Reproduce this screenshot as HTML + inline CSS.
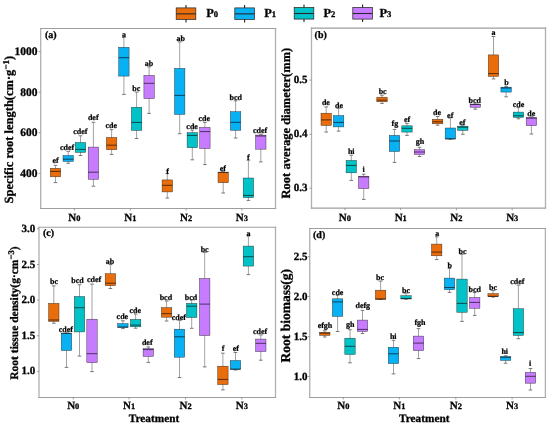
<!DOCTYPE html>
<html><head><meta charset="utf-8"><style>
html,body{margin:0;padding:0;background:#fff;}
body{width:550px;height:426px;overflow:hidden;}
svg{display:block;will-change:transform;text-rendering:geometricPrecision;font-family:"Liberation Serif", serif;font-weight:bold;fill:#111;}
svg text{fill:#000;stroke:#000;stroke-width:0.3px;}
</style></head><body>
<svg width="550" height="426" viewBox="0 0 550 426">
<defs><filter id="bl" x="-1%" y="-1%" width="102%" height="102%" color-interpolation-filters="sRGB"><feGaussianBlur stdDeviation="0.42 0.3"/></filter></defs>
<rect x="0" y="0" width="550" height="426" fill="#fff"/>
<g filter="url(#bl)">
<line x1="55.5" y1="165.3" x2="55.5" y2="182.6" stroke="#8a8a8a" stroke-width="0.8"/>
<line x1="53.70" y1="165.3" x2="57.30" y2="165.3" stroke="#777" stroke-width="1"/>
<line x1="53.70" y1="182.6" x2="57.30" y2="182.6" stroke="#777" stroke-width="1"/>
<rect x="50.30" y="168.3" width="10.4" height="8.50" fill="#EA6D0B" stroke="#1a1a1a" stroke-width="0.5" stroke-opacity="0.8"/>
<line x1="50.30" y1="171.4" x2="60.70" y2="171.4" stroke="#000" stroke-width="1" stroke-opacity="0.62"/>
<text x="55.5" y="162.70" font-size="8" text-anchor="middle" style="stroke-width:0.22px">ef</text>
<line x1="68.2" y1="151.3" x2="68.2" y2="163.3" stroke="#8a8a8a" stroke-width="0.8"/>
<line x1="66.40" y1="151.3" x2="70.00" y2="151.3" stroke="#777" stroke-width="1"/>
<line x1="66.40" y1="163.3" x2="70.00" y2="163.3" stroke="#777" stroke-width="1"/>
<rect x="63.00" y="155.5" width="10.4" height="6.00" fill="#07B1F3" stroke="#1a1a1a" stroke-width="0.5" stroke-opacity="0.8"/>
<line x1="63.00" y1="159.2" x2="73.40" y2="159.2" stroke="#000" stroke-width="1" stroke-opacity="0.62"/>
<text x="67.1" y="150.00" font-size="8" text-anchor="middle" style="stroke-width:0.22px">cdef</text>
<line x1="80.5" y1="135.8" x2="80.5" y2="155.5" stroke="#8a8a8a" stroke-width="0.8"/>
<line x1="78.70" y1="135.8" x2="82.30" y2="135.8" stroke="#777" stroke-width="1"/>
<line x1="78.70" y1="155.5" x2="82.30" y2="155.5" stroke="#777" stroke-width="1"/>
<rect x="75.30" y="142.5" width="10.4" height="9.90" fill="#01C2C6" stroke="#1a1a1a" stroke-width="0.5" stroke-opacity="0.8"/>
<line x1="75.30" y1="149.4" x2="85.70" y2="149.4" stroke="#000" stroke-width="1" stroke-opacity="0.62"/>
<text x="80.25" y="133.50" font-size="8" text-anchor="middle" style="stroke-width:0.22px">cdef</text>
<line x1="93.4" y1="122.3" x2="93.4" y2="186.2" stroke="#8a8a8a" stroke-width="0.8"/>
<line x1="91.60" y1="122.3" x2="95.20" y2="122.3" stroke="#777" stroke-width="1"/>
<line x1="91.60" y1="186.2" x2="95.20" y2="186.2" stroke="#777" stroke-width="1"/>
<rect x="88.20" y="147.1" width="10.4" height="32.20" fill="#C77CFF" stroke="#1a1a1a" stroke-width="0.5" stroke-opacity="0.8"/>
<line x1="88.20" y1="172.2" x2="98.60" y2="172.2" stroke="#000" stroke-width="1" stroke-opacity="0.62"/>
<text x="93.25" y="120.20" font-size="8" text-anchor="middle" style="stroke-width:0.22px">def</text>
<line x1="111.6" y1="129.7" x2="111.6" y2="154.4" stroke="#8a8a8a" stroke-width="0.8"/>
<line x1="109.80" y1="129.7" x2="113.40" y2="129.7" stroke="#777" stroke-width="1"/>
<line x1="109.80" y1="154.4" x2="113.40" y2="154.4" stroke="#777" stroke-width="1"/>
<rect x="106.40" y="137.5" width="10.4" height="12.20" fill="#EA6D0B" stroke="#1a1a1a" stroke-width="0.5" stroke-opacity="0.8"/>
<line x1="106.40" y1="145.2" x2="116.80" y2="145.2" stroke="#000" stroke-width="1" stroke-opacity="0.62"/>
<text x="111.3" y="128.30" font-size="8" text-anchor="middle" style="stroke-width:0.22px">cde</text>
<line x1="123.9" y1="37.5" x2="123.9" y2="94.4" stroke="#8a8a8a" stroke-width="0.8"/>
<line x1="122.10" y1="37.5" x2="125.70" y2="37.5" stroke="#777" stroke-width="1"/>
<line x1="122.10" y1="94.4" x2="125.70" y2="94.4" stroke="#777" stroke-width="1"/>
<rect x="118.70" y="47.3" width="10.4" height="28.80" fill="#07B1F3" stroke="#1a1a1a" stroke-width="0.5" stroke-opacity="0.8"/>
<line x1="118.70" y1="57.7" x2="129.10" y2="57.7" stroke="#000" stroke-width="1" stroke-opacity="0.62"/>
<text x="123.9" y="36.60" font-size="8" text-anchor="middle" style="stroke-width:0.22px">a</text>
<line x1="136.6" y1="92.1" x2="136.6" y2="138.5" stroke="#8a8a8a" stroke-width="0.8"/>
<line x1="134.80" y1="92.1" x2="138.40" y2="92.1" stroke="#777" stroke-width="1"/>
<line x1="134.80" y1="138.5" x2="138.40" y2="138.5" stroke="#777" stroke-width="1"/>
<rect x="131.40" y="107.3" width="10.4" height="23.10" fill="#01C2C6" stroke="#1a1a1a" stroke-width="0.5" stroke-opacity="0.8"/>
<line x1="131.40" y1="122.4" x2="141.80" y2="122.4" stroke="#000" stroke-width="1" stroke-opacity="0.62"/>
<text x="136.25" y="90.70" font-size="8" text-anchor="middle" style="stroke-width:0.22px">bc</text>
<line x1="149.1" y1="66.8" x2="149.1" y2="113.4" stroke="#8a8a8a" stroke-width="0.8"/>
<line x1="147.30" y1="66.8" x2="150.90" y2="66.8" stroke="#777" stroke-width="1"/>
<line x1="147.30" y1="113.4" x2="150.90" y2="113.4" stroke="#777" stroke-width="1"/>
<rect x="143.90" y="75.4" width="10.4" height="23.20" fill="#C77CFF" stroke="#1a1a1a" stroke-width="0.5" stroke-opacity="0.8"/>
<line x1="143.90" y1="83.3" x2="154.30" y2="83.3" stroke="#000" stroke-width="1" stroke-opacity="0.62"/>
<text x="149" y="66.10" font-size="8" text-anchor="middle" style="stroke-width:0.22px">ab</text>
<line x1="167.3" y1="173.7" x2="167.3" y2="198" stroke="#8a8a8a" stroke-width="0.8"/>
<line x1="165.50" y1="173.7" x2="169.10" y2="173.7" stroke="#777" stroke-width="1"/>
<line x1="165.50" y1="198" x2="169.10" y2="198" stroke="#777" stroke-width="1"/>
<rect x="162.10" y="179.9" width="10.4" height="12.00" fill="#EA6D0B" stroke="#1a1a1a" stroke-width="0.5" stroke-opacity="0.8"/>
<line x1="162.10" y1="185.3" x2="172.50" y2="185.3" stroke="#000" stroke-width="1" stroke-opacity="0.62"/>
<text x="167.55" y="173.60" font-size="8" text-anchor="middle" style="stroke-width:0.22px">f</text>
<line x1="179.7" y1="41.9" x2="179.7" y2="133.7" stroke="#8a8a8a" stroke-width="0.8"/>
<line x1="177.90" y1="41.9" x2="181.50" y2="41.9" stroke="#777" stroke-width="1"/>
<line x1="177.90" y1="133.7" x2="181.50" y2="133.7" stroke="#777" stroke-width="1"/>
<rect x="174.50" y="68.4" width="10.4" height="46.00" fill="#07B1F3" stroke="#1a1a1a" stroke-width="0.5" stroke-opacity="0.8"/>
<line x1="174.50" y1="95.4" x2="184.90" y2="95.4" stroke="#000" stroke-width="1" stroke-opacity="0.62"/>
<text x="180.65" y="40.50" font-size="8" text-anchor="middle" style="stroke-width:0.22px">ab</text>
<line x1="192.3" y1="130.2" x2="192.3" y2="159.8" stroke="#8a8a8a" stroke-width="0.8"/>
<line x1="190.50" y1="130.2" x2="194.10" y2="130.2" stroke="#777" stroke-width="1"/>
<line x1="190.50" y1="159.8" x2="194.10" y2="159.8" stroke="#777" stroke-width="1"/>
<rect x="187.10" y="132.6" width="10.4" height="15.10" fill="#01C2C6" stroke="#1a1a1a" stroke-width="0.5" stroke-opacity="0.8"/>
<line x1="187.10" y1="135.4" x2="197.50" y2="135.4" stroke="#000" stroke-width="1" stroke-opacity="0.62"/>
<text x="192.15" y="128.80" font-size="8" text-anchor="middle" style="stroke-width:0.22px">cde</text>
<line x1="204.9" y1="122.4" x2="204.9" y2="164.6" stroke="#8a8a8a" stroke-width="0.8"/>
<line x1="203.10" y1="122.4" x2="206.70" y2="122.4" stroke="#777" stroke-width="1"/>
<line x1="203.10" y1="164.6" x2="206.70" y2="164.6" stroke="#777" stroke-width="1"/>
<rect x="199.70" y="127.4" width="10.4" height="21.10" fill="#C77CFF" stroke="#1a1a1a" stroke-width="0.5" stroke-opacity="0.8"/>
<line x1="199.70" y1="131.6" x2="210.10" y2="131.6" stroke="#000" stroke-width="1" stroke-opacity="0.62"/>
<text x="204.3" y="121.30" font-size="8" text-anchor="middle" style="stroke-width:0.22px">cde</text>
<line x1="223.2" y1="171.2" x2="223.2" y2="193" stroke="#8a8a8a" stroke-width="0.8"/>
<line x1="221.40" y1="171.2" x2="225.00" y2="171.2" stroke="#777" stroke-width="1"/>
<line x1="221.40" y1="193" x2="225.00" y2="193" stroke="#777" stroke-width="1"/>
<rect x="218.00" y="172.3" width="10.4" height="10.40" fill="#EA6D0B" stroke="#1a1a1a" stroke-width="0.5" stroke-opacity="0.8"/>
<line x1="218.00" y1="172.3" x2="228.40" y2="172.3" stroke="#000" stroke-width="1" stroke-opacity="0.62"/>
<text x="222.9" y="171.10" font-size="8" text-anchor="middle" style="stroke-width:0.22px">ef</text>
<line x1="235.6" y1="100.8" x2="235.6" y2="138" stroke="#8a8a8a" stroke-width="0.8"/>
<line x1="233.80" y1="100.8" x2="237.40" y2="100.8" stroke="#777" stroke-width="1"/>
<line x1="233.80" y1="138" x2="237.40" y2="138" stroke="#777" stroke-width="1"/>
<rect x="230.40" y="111.7" width="10.4" height="18.60" fill="#07B1F3" stroke="#1a1a1a" stroke-width="0.5" stroke-opacity="0.8"/>
<line x1="230.40" y1="122.3" x2="240.80" y2="122.3" stroke="#000" stroke-width="1" stroke-opacity="0.62"/>
<text x="235.75" y="100.00" font-size="8" text-anchor="middle" style="stroke-width:0.22px">bcd</text>
<line x1="248.4" y1="160.2" x2="248.4" y2="200.4" stroke="#8a8a8a" stroke-width="0.8"/>
<line x1="246.60" y1="160.2" x2="250.20" y2="160.2" stroke="#777" stroke-width="1"/>
<line x1="246.60" y1="200.4" x2="250.20" y2="200.4" stroke="#777" stroke-width="1"/>
<rect x="243.20" y="178" width="10.4" height="19.70" fill="#01C2C6" stroke="#1a1a1a" stroke-width="0.5" stroke-opacity="0.8"/>
<line x1="243.20" y1="195.4" x2="253.60" y2="195.4" stroke="#000" stroke-width="1" stroke-opacity="0.62"/>
<text x="248.3" y="159.80" font-size="8" text-anchor="middle" style="stroke-width:0.22px">f</text>
<line x1="260.8" y1="134.2" x2="260.8" y2="161.9" stroke="#8a8a8a" stroke-width="0.8"/>
<line x1="259.00" y1="134.2" x2="262.60" y2="134.2" stroke="#777" stroke-width="1"/>
<line x1="259.00" y1="161.9" x2="262.60" y2="161.9" stroke="#777" stroke-width="1"/>
<rect x="255.60" y="135.1" width="10.4" height="14.10" fill="#C77CFF" stroke="#1a1a1a" stroke-width="0.5" stroke-opacity="0.8"/>
<line x1="255.60" y1="136" x2="266.00" y2="136" stroke="#000" stroke-width="1" stroke-opacity="0.62"/>
<text x="260.15" y="133.10" font-size="8" text-anchor="middle" style="stroke-width:0.22px">cdef</text>
<path d="M40.7 28.0V209.05M275.5 28.0V209.05" stroke="#b0b0b0" stroke-width="1.3" fill="none"/>
<path d="M40.050000000000004 28.5H276.15M40.050000000000004 208.55H276.15" stroke="#9e9e9e" stroke-width="1.05" fill="none"/>
<line x1="38.7" y1="173.3" x2="40.7" y2="173.3" stroke="#888" stroke-width="0.8"/>
<text x="37.6" y="176.72" font-size="11.5" text-anchor="end">400</text>
<line x1="38.7" y1="132.75" x2="40.7" y2="132.75" stroke="#888" stroke-width="0.8"/>
<text x="37.6" y="136.15" font-size="11.5" text-anchor="end">600</text>
<line x1="38.7" y1="92.2" x2="40.7" y2="92.2" stroke="#888" stroke-width="0.8"/>
<text x="37.6" y="95.59" font-size="11.5" text-anchor="end">800</text>
<line x1="38.7" y1="51.6" x2="40.7" y2="51.6" stroke="#888" stroke-width="0.8"/>
<text x="37.6" y="55.02" font-size="11.5" text-anchor="end">1000</text>
<line x1="74.4" y1="208.55" x2="74.4" y2="210.55" stroke="#888" stroke-width="0.8"/>
<text x="74.4" y="221.15" font-size="11" text-anchor="middle">N<tspan font-size="8.4">0</tspan></text>
<line x1="130.3" y1="208.55" x2="130.3" y2="210.55" stroke="#888" stroke-width="0.8"/>
<text x="130.3" y="221.15" font-size="11" text-anchor="middle">N<tspan font-size="8.4">1</tspan></text>
<line x1="186.1" y1="208.55" x2="186.1" y2="210.55" stroke="#888" stroke-width="0.8"/>
<text x="186.1" y="221.15" font-size="11" text-anchor="middle">N<tspan font-size="8.4">2</tspan></text>
<line x1="241.9" y1="208.55" x2="241.9" y2="210.55" stroke="#888" stroke-width="0.8"/>
<text x="241.9" y="221.15" font-size="11" text-anchor="middle">N<tspan font-size="8.4">3</tspan></text>
<text x="44.9" y="37.9" font-size="10">(a)</text>
<line x1="326.2" y1="106.9" x2="326.2" y2="132" stroke="#8a8a8a" stroke-width="0.8"/>
<line x1="324.40" y1="106.9" x2="328.00" y2="106.9" stroke="#777" stroke-width="1"/>
<line x1="324.40" y1="132" x2="328.00" y2="132" stroke="#777" stroke-width="1"/>
<rect x="321.00" y="113.2" width="10.4" height="12.30" fill="#EA6D0B" stroke="#1a1a1a" stroke-width="0.5" stroke-opacity="0.8"/>
<line x1="321.00" y1="119.9" x2="331.40" y2="119.9" stroke="#000" stroke-width="1" stroke-opacity="0.62"/>
<text x="325.9" y="105.10" font-size="8" text-anchor="middle" style="stroke-width:0.22px">de</text>
<line x1="338.6" y1="108.3" x2="338.6" y2="131.1" stroke="#8a8a8a" stroke-width="0.8"/>
<line x1="336.80" y1="108.3" x2="340.40" y2="108.3" stroke="#777" stroke-width="1"/>
<line x1="336.80" y1="131.1" x2="340.40" y2="131.1" stroke="#777" stroke-width="1"/>
<rect x="333.40" y="115.6" width="10.4" height="11.30" fill="#07B1F3" stroke="#1a1a1a" stroke-width="0.5" stroke-opacity="0.8"/>
<line x1="333.40" y1="122.4" x2="343.80" y2="122.4" stroke="#000" stroke-width="1" stroke-opacity="0.62"/>
<text x="338.95" y="107.50" font-size="8" text-anchor="middle" style="stroke-width:0.22px">de</text>
<line x1="351.3" y1="155.2" x2="351.3" y2="180.4" stroke="#8a8a8a" stroke-width="0.8"/>
<line x1="349.50" y1="155.2" x2="353.10" y2="155.2" stroke="#777" stroke-width="1"/>
<line x1="349.50" y1="180.4" x2="353.10" y2="180.4" stroke="#777" stroke-width="1"/>
<rect x="346.10" y="160.4" width="10.4" height="12.40" fill="#01C2C6" stroke="#1a1a1a" stroke-width="0.5" stroke-opacity="0.8"/>
<line x1="346.10" y1="165.4" x2="356.50" y2="165.4" stroke="#000" stroke-width="1" stroke-opacity="0.62"/>
<text x="351.25" y="153.70" font-size="8" text-anchor="middle" style="stroke-width:0.22px">hi</text>
<line x1="363.7" y1="174.2" x2="363.7" y2="199.4" stroke="#8a8a8a" stroke-width="0.8"/>
<line x1="361.90" y1="174.2" x2="365.50" y2="174.2" stroke="#777" stroke-width="1"/>
<line x1="361.90" y1="199.4" x2="365.50" y2="199.4" stroke="#777" stroke-width="1"/>
<rect x="358.50" y="176.2" width="10.4" height="12.40" fill="#C77CFF" stroke="#1a1a1a" stroke-width="0.5" stroke-opacity="0.8"/>
<line x1="358.50" y1="176.9" x2="368.90" y2="176.9" stroke="#000" stroke-width="1" stroke-opacity="0.62"/>
<text x="363.6" y="172.40" font-size="8" text-anchor="middle" style="stroke-width:0.22px">i</text>
<line x1="382" y1="95.2" x2="382" y2="103.4" stroke="#8a8a8a" stroke-width="0.8"/>
<line x1="380.20" y1="95.2" x2="383.80" y2="95.2" stroke="#777" stroke-width="1"/>
<line x1="380.20" y1="103.4" x2="383.80" y2="103.4" stroke="#777" stroke-width="1"/>
<rect x="376.80" y="97.2" width="10.4" height="4.60" fill="#EA6D0B" stroke="#1a1a1a" stroke-width="0.5" stroke-opacity="0.8"/>
<line x1="376.80" y1="100.1" x2="387.20" y2="100.1" stroke="#000" stroke-width="1" stroke-opacity="0.62"/>
<text x="382.65" y="94.40" font-size="8" text-anchor="middle" style="stroke-width:0.22px">bc</text>
<line x1="394.5" y1="129.4" x2="394.5" y2="162.4" stroke="#8a8a8a" stroke-width="0.8"/>
<line x1="392.70" y1="129.4" x2="396.30" y2="129.4" stroke="#777" stroke-width="1"/>
<line x1="392.70" y1="162.4" x2="396.30" y2="162.4" stroke="#777" stroke-width="1"/>
<rect x="389.30" y="135.4" width="10.4" height="16.10" fill="#07B1F3" stroke="#1a1a1a" stroke-width="0.5" stroke-opacity="0.8"/>
<line x1="389.30" y1="141" x2="399.70" y2="141" stroke="#000" stroke-width="1" stroke-opacity="0.62"/>
<text x="394.9" y="126.20" font-size="8" text-anchor="middle" style="stroke-width:0.22px">fg</text>
<line x1="407" y1="123.4" x2="407" y2="135.4" stroke="#8a8a8a" stroke-width="0.8"/>
<line x1="405.20" y1="123.4" x2="408.80" y2="123.4" stroke="#777" stroke-width="1"/>
<line x1="405.20" y1="135.4" x2="408.80" y2="135.4" stroke="#777" stroke-width="1"/>
<rect x="401.80" y="125.8" width="10.4" height="6.30" fill="#01C2C6" stroke="#1a1a1a" stroke-width="0.5" stroke-opacity="0.8"/>
<line x1="401.80" y1="128.3" x2="412.20" y2="128.3" stroke="#000" stroke-width="1" stroke-opacity="0.62"/>
<text x="407" y="121.60" font-size="8" text-anchor="middle" style="stroke-width:0.22px">ef</text>
<line x1="419.5" y1="147.3" x2="419.5" y2="156.5" stroke="#8a8a8a" stroke-width="0.8"/>
<line x1="417.70" y1="147.3" x2="421.30" y2="147.3" stroke="#777" stroke-width="1"/>
<line x1="417.70" y1="156.5" x2="421.30" y2="156.5" stroke="#777" stroke-width="1"/>
<rect x="414.30" y="149.7" width="10.4" height="4.70" fill="#C77CFF" stroke="#1a1a1a" stroke-width="0.5" stroke-opacity="0.8"/>
<line x1="414.30" y1="152" x2="424.70" y2="152" stroke="#000" stroke-width="1" stroke-opacity="0.62"/>
<text x="419.9" y="143.80" font-size="8" text-anchor="middle" style="stroke-width:0.22px">gh</text>
<line x1="437.6" y1="116.5" x2="437.6" y2="125.2" stroke="#8a8a8a" stroke-width="0.8"/>
<line x1="435.80" y1="116.5" x2="439.40" y2="116.5" stroke="#777" stroke-width="1"/>
<line x1="435.80" y1="125.2" x2="439.40" y2="125.2" stroke="#777" stroke-width="1"/>
<rect x="432.40" y="119.3" width="10.4" height="4.50" fill="#EA6D0B" stroke="#1a1a1a" stroke-width="0.5" stroke-opacity="0.8"/>
<line x1="432.40" y1="121.8" x2="442.80" y2="121.8" stroke="#000" stroke-width="1" stroke-opacity="0.62"/>
<text x="437.05" y="115.10" font-size="8" text-anchor="middle" style="stroke-width:0.22px">de</text>
<line x1="450.4" y1="117.7" x2="450.4" y2="139.2" stroke="#8a8a8a" stroke-width="0.8"/>
<line x1="448.60" y1="117.7" x2="452.20" y2="117.7" stroke="#777" stroke-width="1"/>
<line x1="448.60" y1="139.2" x2="452.20" y2="139.2" stroke="#777" stroke-width="1"/>
<rect x="445.20" y="128" width="10.4" height="10.90" fill="#07B1F3" stroke="#1a1a1a" stroke-width="0.5" stroke-opacity="0.8"/>
<line x1="445.20" y1="138.9" x2="455.60" y2="138.9" stroke="#000" stroke-width="1" stroke-opacity="0.62"/>
<text x="450.2" y="118.20" font-size="8" text-anchor="middle" style="stroke-width:0.22px">ef</text>
<line x1="462.8" y1="125.2" x2="462.8" y2="134.2" stroke="#8a8a8a" stroke-width="0.8"/>
<line x1="461.00" y1="125.2" x2="464.60" y2="125.2" stroke="#777" stroke-width="1"/>
<line x1="461.00" y1="134.2" x2="464.60" y2="134.2" stroke="#777" stroke-width="1"/>
<rect x="457.60" y="126.2" width="10.4" height="4.20" fill="#01C2C6" stroke="#1a1a1a" stroke-width="0.5" stroke-opacity="0.8"/>
<line x1="457.60" y1="127.2" x2="468.00" y2="127.2" stroke="#000" stroke-width="1" stroke-opacity="0.62"/>
<text x="462.4" y="124.50" font-size="8" text-anchor="middle" style="stroke-width:0.22px">ef</text>
<line x1="475.3" y1="104.1" x2="475.3" y2="109.2" stroke="#8a8a8a" stroke-width="0.8"/>
<line x1="473.50" y1="104.1" x2="477.10" y2="104.1" stroke="#777" stroke-width="1"/>
<line x1="473.50" y1="109.2" x2="477.10" y2="109.2" stroke="#777" stroke-width="1"/>
<rect x="470.10" y="104.2" width="10.4" height="3.10" fill="#C77CFF" stroke="#1a1a1a" stroke-width="0.5" stroke-opacity="0.8"/>
<line x1="470.10" y1="104.35" x2="480.50" y2="104.35" stroke="#000" stroke-width="1" stroke-opacity="0.62"/>
<text x="474.7" y="102.70" font-size="8" text-anchor="middle" style="stroke-width:0.22px">bcd</text>
<line x1="493.5" y1="36.5" x2="493.5" y2="78.9" stroke="#8a8a8a" stroke-width="0.8"/>
<line x1="491.70" y1="36.5" x2="495.30" y2="36.5" stroke="#777" stroke-width="1"/>
<line x1="491.70" y1="78.9" x2="495.30" y2="78.9" stroke="#777" stroke-width="1"/>
<rect x="488.30" y="54.9" width="10.4" height="21.50" fill="#EA6D0B" stroke="#1a1a1a" stroke-width="0.5" stroke-opacity="0.8"/>
<line x1="488.30" y1="73.6" x2="498.70" y2="73.6" stroke="#000" stroke-width="1" stroke-opacity="0.62"/>
<text x="493.55" y="35.40" font-size="8" text-anchor="middle" style="stroke-width:0.22px">a</text>
<line x1="506.1" y1="86.6" x2="506.1" y2="96.8" stroke="#8a8a8a" stroke-width="0.8"/>
<line x1="504.30" y1="86.6" x2="507.90" y2="86.6" stroke="#777" stroke-width="1"/>
<line x1="504.30" y1="96.8" x2="507.90" y2="96.8" stroke="#777" stroke-width="1"/>
<rect x="500.90" y="87.2" width="10.4" height="4.90" fill="#07B1F3" stroke="#1a1a1a" stroke-width="0.5" stroke-opacity="0.8"/>
<line x1="500.90" y1="88" x2="511.30" y2="88" stroke="#000" stroke-width="1" stroke-opacity="0.62"/>
<text x="506.55" y="85.10" font-size="8" text-anchor="middle" style="stroke-width:0.22px">b</text>
<line x1="518.4" y1="107.6" x2="518.4" y2="118.8" stroke="#8a8a8a" stroke-width="0.8"/>
<line x1="516.60" y1="107.6" x2="520.20" y2="107.6" stroke="#777" stroke-width="1"/>
<line x1="516.60" y1="118.8" x2="520.20" y2="118.8" stroke="#777" stroke-width="1"/>
<rect x="513.20" y="112.1" width="10.4" height="5.30" fill="#01C2C6" stroke="#1a1a1a" stroke-width="0.5" stroke-opacity="0.8"/>
<line x1="513.20" y1="115.8" x2="523.60" y2="115.8" stroke="#000" stroke-width="1" stroke-opacity="0.62"/>
<text x="518.55" y="106.60" font-size="8" text-anchor="middle" style="stroke-width:0.22px">cde</text>
<line x1="531.4" y1="116.8" x2="531.4" y2="134" stroke="#8a8a8a" stroke-width="0.8"/>
<line x1="529.60" y1="116.8" x2="533.20" y2="116.8" stroke="#777" stroke-width="1"/>
<line x1="529.60" y1="134" x2="533.20" y2="134" stroke="#777" stroke-width="1"/>
<rect x="526.20" y="117.4" width="10.4" height="8.30" fill="#C77CFF" stroke="#1a1a1a" stroke-width="0.5" stroke-opacity="0.8"/>
<line x1="526.20" y1="118.2" x2="536.60" y2="118.2" stroke="#000" stroke-width="1" stroke-opacity="0.62"/>
<text x="531.35" y="116.00" font-size="8" text-anchor="middle" style="stroke-width:0.22px">de</text>
<path d="M311.5 27.6V208.6M545.5 27.6V208.6" stroke="#b0b0b0" stroke-width="1.3" fill="none"/>
<path d="M310.85 28.1H546.15M310.85 208.1H546.15" stroke="#9e9e9e" stroke-width="1.05" fill="none"/>
<line x1="309.5" y1="188.2" x2="311.5" y2="188.2" stroke="#888" stroke-width="0.8"/>
<text x="307.4" y="191.19" font-size="11" text-anchor="end">0.3</text>
<line x1="309.5" y1="134.3" x2="311.5" y2="134.3" stroke="#888" stroke-width="0.8"/>
<text x="307.4" y="136.99" font-size="11" text-anchor="end">0.4</text>
<line x1="309.5" y1="80.1" x2="311.5" y2="80.1" stroke="#888" stroke-width="0.8"/>
<text x="307.4" y="82.89" font-size="11" text-anchor="end">0.5</text>
<line x1="344.9" y1="208.1" x2="344.9" y2="210.1" stroke="#888" stroke-width="0.8"/>
<text x="344.9" y="220.70" font-size="11" text-anchor="middle">N<tspan font-size="8.4">0</tspan></text>
<line x1="400.7" y1="208.1" x2="400.7" y2="210.1" stroke="#888" stroke-width="0.8"/>
<text x="400.7" y="220.70" font-size="11" text-anchor="middle">N<tspan font-size="8.4">1</tspan></text>
<line x1="456.4" y1="208.1" x2="456.4" y2="210.1" stroke="#888" stroke-width="0.8"/>
<text x="456.4" y="220.70" font-size="11" text-anchor="middle">N<tspan font-size="8.4">2</tspan></text>
<line x1="512.2" y1="208.1" x2="512.2" y2="210.1" stroke="#888" stroke-width="0.8"/>
<text x="512.2" y="220.70" font-size="11" text-anchor="middle">N<tspan font-size="8.4">3</tspan></text>
<text x="314.6" y="37.6" font-size="10">(b)</text>
<line x1="53.8" y1="285.9" x2="53.8" y2="323.2" stroke="#8a8a8a" stroke-width="0.8"/>
<line x1="52.00" y1="285.9" x2="55.60" y2="285.9" stroke="#777" stroke-width="1"/>
<line x1="52.00" y1="323.2" x2="55.60" y2="323.2" stroke="#777" stroke-width="1"/>
<rect x="48.60" y="303.4" width="10.4" height="18.00" fill="#EA6D0B" stroke="#1a1a1a" stroke-width="0.5" stroke-opacity="0.8"/>
<line x1="48.60" y1="320" x2="59.00" y2="320" stroke="#000" stroke-width="1" stroke-opacity="0.62"/>
<text x="53.95" y="284.40" font-size="8" text-anchor="middle" style="stroke-width:0.22px">bc</text>
<line x1="66.5" y1="332.9" x2="66.5" y2="367.4" stroke="#8a8a8a" stroke-width="0.8"/>
<line x1="64.70" y1="332.9" x2="68.30" y2="332.9" stroke="#777" stroke-width="1"/>
<line x1="64.70" y1="367.4" x2="68.30" y2="367.4" stroke="#777" stroke-width="1"/>
<rect x="61.30" y="333.3" width="10.4" height="17.20" fill="#07B1F3" stroke="#1a1a1a" stroke-width="0.5" stroke-opacity="0.8"/>
<line x1="61.30" y1="333.3" x2="71.70" y2="333.3" stroke="#000" stroke-width="1" stroke-opacity="0.62"/>
<text x="65.85" y="331.50" font-size="8" text-anchor="middle" style="stroke-width:0.22px">cdef</text>
<line x1="79.5" y1="284.8" x2="79.5" y2="356.1" stroke="#8a8a8a" stroke-width="0.8"/>
<line x1="77.70" y1="284.8" x2="81.30" y2="284.8" stroke="#777" stroke-width="1"/>
<line x1="77.70" y1="356.1" x2="81.30" y2="356.1" stroke="#777" stroke-width="1"/>
<rect x="74.30" y="296.5" width="10.4" height="35.40" fill="#01C2C6" stroke="#1a1a1a" stroke-width="0.5" stroke-opacity="0.8"/>
<line x1="74.30" y1="307.7" x2="84.70" y2="307.7" stroke="#000" stroke-width="1" stroke-opacity="0.62"/>
<text x="77.55" y="283.30" font-size="8" text-anchor="middle" style="stroke-width:0.22px">bcd</text>
<line x1="92" y1="284.1" x2="92" y2="371.6" stroke="#8a8a8a" stroke-width="0.8"/>
<line x1="90.20" y1="284.1" x2="93.80" y2="284.1" stroke="#777" stroke-width="1"/>
<line x1="90.20" y1="371.6" x2="93.80" y2="371.6" stroke="#777" stroke-width="1"/>
<rect x="86.80" y="319.2" width="10.4" height="43.40" fill="#C77CFF" stroke="#1a1a1a" stroke-width="0.5" stroke-opacity="0.8"/>
<line x1="86.80" y1="353.7" x2="97.20" y2="353.7" stroke="#000" stroke-width="1" stroke-opacity="0.62"/>
<text x="94.15" y="282.30" font-size="8" text-anchor="middle" style="stroke-width:0.22px">cdef</text>
<line x1="110.4" y1="264.6" x2="110.4" y2="288.5" stroke="#8a8a8a" stroke-width="0.8"/>
<line x1="108.60" y1="264.6" x2="112.20" y2="264.6" stroke="#777" stroke-width="1"/>
<line x1="108.60" y1="288.5" x2="112.20" y2="288.5" stroke="#777" stroke-width="1"/>
<rect x="105.20" y="273.7" width="10.4" height="12.00" fill="#EA6D0B" stroke="#1a1a1a" stroke-width="0.5" stroke-opacity="0.8"/>
<line x1="105.20" y1="283.2" x2="115.60" y2="283.2" stroke="#000" stroke-width="1" stroke-opacity="0.62"/>
<text x="110" y="263.50" font-size="8" text-anchor="middle" style="stroke-width:0.22px">ab</text>
<line x1="122.9" y1="320.8" x2="122.9" y2="328.6" stroke="#8a8a8a" stroke-width="0.8"/>
<line x1="121.10" y1="320.8" x2="124.70" y2="320.8" stroke="#777" stroke-width="1"/>
<line x1="121.10" y1="328.6" x2="124.70" y2="328.6" stroke="#777" stroke-width="1"/>
<rect x="117.70" y="323.6" width="10.4" height="3.90" fill="#07B1F3" stroke="#1a1a1a" stroke-width="0.5" stroke-opacity="0.8"/>
<line x1="117.70" y1="327.0" x2="128.10" y2="327.0" stroke="#000" stroke-width="1" stroke-opacity="0.62"/>
<text x="122.4" y="319.30" font-size="8" text-anchor="middle" style="stroke-width:0.22px">cde</text>
<line x1="135.6" y1="314.1" x2="135.6" y2="328.2" stroke="#8a8a8a" stroke-width="0.8"/>
<line x1="133.80" y1="314.1" x2="137.40" y2="314.1" stroke="#777" stroke-width="1"/>
<line x1="133.80" y1="328.2" x2="137.40" y2="328.2" stroke="#777" stroke-width="1"/>
<rect x="130.40" y="319.4" width="10.4" height="7.40" fill="#01C2C6" stroke="#1a1a1a" stroke-width="0.5" stroke-opacity="0.8"/>
<line x1="130.40" y1="325.1" x2="140.80" y2="325.1" stroke="#000" stroke-width="1" stroke-opacity="0.62"/>
<text x="135.35" y="313.30" font-size="8" text-anchor="middle" style="stroke-width:0.22px">cde</text>
<line x1="148.3" y1="347" x2="148.3" y2="362.4" stroke="#8a8a8a" stroke-width="0.8"/>
<line x1="146.50" y1="347" x2="150.10" y2="347" stroke="#777" stroke-width="1"/>
<line x1="146.50" y1="362.4" x2="150.10" y2="362.4" stroke="#777" stroke-width="1"/>
<rect x="143.10" y="348.6" width="10.4" height="7.80" fill="#C77CFF" stroke="#1a1a1a" stroke-width="0.5" stroke-opacity="0.8"/>
<line x1="143.10" y1="349.6" x2="153.50" y2="349.6" stroke="#000" stroke-width="1" stroke-opacity="0.62"/>
<text x="147.25" y="344.90" font-size="8" text-anchor="middle" style="stroke-width:0.22px">def</text>
<line x1="166.6" y1="301" x2="166.6" y2="321" stroke="#8a8a8a" stroke-width="0.8"/>
<line x1="164.80" y1="301" x2="168.40" y2="301" stroke="#777" stroke-width="1"/>
<line x1="164.80" y1="321" x2="168.40" y2="321" stroke="#777" stroke-width="1"/>
<rect x="161.40" y="307.6" width="10.4" height="9.60" fill="#EA6D0B" stroke="#1a1a1a" stroke-width="0.5" stroke-opacity="0.8"/>
<line x1="161.40" y1="313.7" x2="171.80" y2="313.7" stroke="#000" stroke-width="1" stroke-opacity="0.62"/>
<text x="165.9" y="299.50" font-size="8" text-anchor="middle" style="stroke-width:0.22px">bcd</text>
<line x1="179.5" y1="320.3" x2="179.5" y2="377.5" stroke="#8a8a8a" stroke-width="0.8"/>
<line x1="177.70" y1="320.3" x2="181.30" y2="320.3" stroke="#777" stroke-width="1"/>
<line x1="177.70" y1="377.5" x2="181.30" y2="377.5" stroke="#777" stroke-width="1"/>
<rect x="174.30" y="329.2" width="10.4" height="28.00" fill="#07B1F3" stroke="#1a1a1a" stroke-width="0.5" stroke-opacity="0.8"/>
<line x1="174.30" y1="336.8" x2="184.70" y2="336.8" stroke="#000" stroke-width="1" stroke-opacity="0.62"/>
<text x="178.8" y="319.90" font-size="8" text-anchor="middle" style="stroke-width:0.22px">cdef</text>
<line x1="191.7" y1="299.9" x2="191.7" y2="328.3" stroke="#8a8a8a" stroke-width="0.8"/>
<line x1="189.90" y1="299.9" x2="193.50" y2="299.9" stroke="#777" stroke-width="1"/>
<line x1="189.90" y1="328.3" x2="193.50" y2="328.3" stroke="#777" stroke-width="1"/>
<rect x="186.50" y="303.4" width="10.4" height="14.10" fill="#01C2C6" stroke="#1a1a1a" stroke-width="0.5" stroke-opacity="0.8"/>
<line x1="186.50" y1="306.2" x2="196.90" y2="306.2" stroke="#000" stroke-width="1" stroke-opacity="0.62"/>
<text x="190.95" y="299.50" font-size="8" text-anchor="middle" style="stroke-width:0.22px">bcd</text>
<line x1="204.7" y1="252.3" x2="204.7" y2="366.9" stroke="#8a8a8a" stroke-width="0.8"/>
<line x1="202.90" y1="252.3" x2="206.50" y2="252.3" stroke="#777" stroke-width="1"/>
<line x1="202.90" y1="366.9" x2="206.50" y2="366.9" stroke="#777" stroke-width="1"/>
<rect x="199.50" y="278.5" width="10.4" height="57.00" fill="#C77CFF" stroke="#1a1a1a" stroke-width="0.5" stroke-opacity="0.8"/>
<line x1="199.50" y1="304.1" x2="209.90" y2="304.1" stroke="#000" stroke-width="1" stroke-opacity="0.62"/>
<text x="204.65" y="251.60" font-size="8" text-anchor="middle" style="stroke-width:0.22px">bc</text>
<line x1="222.9" y1="353.2" x2="222.9" y2="389.9" stroke="#8a8a8a" stroke-width="0.8"/>
<line x1="221.10" y1="353.2" x2="224.70" y2="353.2" stroke="#777" stroke-width="1"/>
<line x1="221.10" y1="389.9" x2="224.70" y2="389.9" stroke="#777" stroke-width="1"/>
<rect x="217.70" y="366.2" width="10.4" height="18.40" fill="#EA6D0B" stroke="#1a1a1a" stroke-width="0.5" stroke-opacity="0.8"/>
<line x1="217.70" y1="379.4" x2="228.10" y2="379.4" stroke="#000" stroke-width="1" stroke-opacity="0.62"/>
<text x="223" y="351.40" font-size="8" text-anchor="middle" style="stroke-width:0.22px">f</text>
<line x1="235.5" y1="352.5" x2="235.5" y2="370" stroke="#8a8a8a" stroke-width="0.8"/>
<line x1="233.70" y1="352.5" x2="237.30" y2="352.5" stroke="#777" stroke-width="1"/>
<line x1="233.70" y1="370" x2="237.30" y2="370" stroke="#777" stroke-width="1"/>
<rect x="230.30" y="360.5" width="10.4" height="8.90" fill="#07B1F3" stroke="#1a1a1a" stroke-width="0.5" stroke-opacity="0.8"/>
<line x1="230.30" y1="369.1" x2="240.70" y2="369.1" stroke="#000" stroke-width="1" stroke-opacity="0.62"/>
<text x="235.9" y="351.40" font-size="8" text-anchor="middle" style="stroke-width:0.22px">ef</text>
<line x1="248.4" y1="236" x2="248.4" y2="274.6" stroke="#8a8a8a" stroke-width="0.8"/>
<line x1="246.60" y1="236" x2="250.20" y2="236" stroke="#777" stroke-width="1"/>
<line x1="246.60" y1="274.6" x2="250.20" y2="274.6" stroke="#777" stroke-width="1"/>
<rect x="243.20" y="246.1" width="10.4" height="20.00" fill="#01C2C6" stroke="#1a1a1a" stroke-width="0.5" stroke-opacity="0.8"/>
<line x1="243.20" y1="256.7" x2="253.60" y2="256.7" stroke="#000" stroke-width="1" stroke-opacity="0.62"/>
<text x="248.45" y="235.90" font-size="8" text-anchor="middle" style="stroke-width:0.22px">a</text>
<line x1="260.8" y1="334.9" x2="260.8" y2="360.2" stroke="#8a8a8a" stroke-width="0.8"/>
<line x1="259.00" y1="334.9" x2="262.60" y2="334.9" stroke="#777" stroke-width="1"/>
<line x1="259.00" y1="360.2" x2="262.60" y2="360.2" stroke="#777" stroke-width="1"/>
<rect x="255.60" y="339.1" width="10.4" height="12.40" fill="#C77CFF" stroke="#1a1a1a" stroke-width="0.5" stroke-opacity="0.8"/>
<line x1="255.60" y1="343.3" x2="266.00" y2="343.3" stroke="#000" stroke-width="1" stroke-opacity="0.62"/>
<text x="260" y="334.00" font-size="8" text-anchor="middle" style="stroke-width:0.22px">cdef</text>
<path d="M39.0 226.8V397.95M275.5 226.8V397.95" stroke="#b0b0b0" stroke-width="1.3" fill="none"/>
<path d="M38.35 227.3H276.15M38.35 397.45H276.15" stroke="#9e9e9e" stroke-width="1.05" fill="none"/>
<line x1="37.0" y1="371.4" x2="39.0" y2="371.4" stroke="#888" stroke-width="0.8"/>
<text x="35.2" y="374.44" font-size="11" text-anchor="end">1.0</text>
<line x1="37.0" y1="335.8" x2="39.0" y2="335.8" stroke="#888" stroke-width="0.8"/>
<text x="35.2" y="338.80" font-size="11" text-anchor="end">1.5</text>
<line x1="37.0" y1="300.1" x2="39.0" y2="300.1" stroke="#888" stroke-width="0.8"/>
<text x="35.2" y="303.15" font-size="11" text-anchor="end">2.0</text>
<line x1="37.0" y1="264.5" x2="39.0" y2="264.5" stroke="#888" stroke-width="0.8"/>
<text x="35.2" y="267.50" font-size="11" text-anchor="end">2.5</text>
<line x1="37.0" y1="228.9" x2="39.0" y2="228.9" stroke="#888" stroke-width="0.8"/>
<text x="35.2" y="231.84" font-size="11" text-anchor="end">3.0</text>
<line x1="73.2" y1="397.45" x2="73.2" y2="399.45" stroke="#888" stroke-width="0.8"/>
<text x="73.2" y="409.05" font-size="11" text-anchor="middle">N<tspan font-size="8.4">0</tspan></text>
<line x1="129.1" y1="397.45" x2="129.1" y2="399.45" stroke="#888" stroke-width="0.8"/>
<text x="129.1" y="409.05" font-size="11" text-anchor="middle">N<tspan font-size="8.4">1</tspan></text>
<line x1="185.5" y1="397.45" x2="185.5" y2="399.45" stroke="#888" stroke-width="0.8"/>
<text x="185.5" y="409.05" font-size="11" text-anchor="middle">N<tspan font-size="8.4">2</tspan></text>
<line x1="241.8" y1="397.45" x2="241.8" y2="399.45" stroke="#888" stroke-width="0.8"/>
<text x="241.8" y="409.05" font-size="11" text-anchor="middle">N<tspan font-size="8.4">3</tspan></text>
<text x="42.9" y="236.0" font-size="10">(c)</text>
<line x1="324.8" y1="330.8" x2="324.8" y2="337" stroke="#8a8a8a" stroke-width="0.8"/>
<line x1="323.00" y1="330.8" x2="326.60" y2="330.8" stroke="#777" stroke-width="1"/>
<line x1="323.00" y1="337" x2="326.60" y2="337" stroke="#777" stroke-width="1"/>
<rect x="319.60" y="332.3" width="10.4" height="3.10" fill="#EA6D0B" stroke="#1a1a1a" stroke-width="0.5" stroke-opacity="0.8"/>
<line x1="319.60" y1="333.2" x2="330.00" y2="333.2" stroke="#000" stroke-width="1" stroke-opacity="0.62"/>
<text x="325" y="327.60" font-size="8" text-anchor="middle" style="stroke-width:0.22px">efgh</text>
<line x1="337.6" y1="295.3" x2="337.6" y2="331.5" stroke="#8a8a8a" stroke-width="0.8"/>
<line x1="335.80" y1="295.3" x2="339.40" y2="295.3" stroke="#777" stroke-width="1"/>
<line x1="335.80" y1="331.5" x2="339.40" y2="331.5" stroke="#777" stroke-width="1"/>
<rect x="332.40" y="298.8" width="10.4" height="17.60" fill="#07B1F3" stroke="#1a1a1a" stroke-width="0.5" stroke-opacity="0.8"/>
<line x1="332.40" y1="301.9" x2="342.80" y2="301.9" stroke="#000" stroke-width="1" stroke-opacity="0.62"/>
<text x="337.65" y="294.90" font-size="8" text-anchor="middle" style="stroke-width:0.22px">cde</text>
<line x1="350" y1="329.7" x2="350" y2="362.8" stroke="#8a8a8a" stroke-width="0.8"/>
<line x1="348.20" y1="329.7" x2="351.80" y2="329.7" stroke="#777" stroke-width="1"/>
<line x1="348.20" y1="362.8" x2="351.80" y2="362.8" stroke="#777" stroke-width="1"/>
<rect x="344.80" y="338.2" width="10.4" height="16.20" fill="#01C2C6" stroke="#1a1a1a" stroke-width="0.5" stroke-opacity="0.8"/>
<line x1="344.80" y1="346.3" x2="355.20" y2="346.3" stroke="#000" stroke-width="1" stroke-opacity="0.62"/>
<text x="350.15" y="326.90" font-size="8" text-anchor="middle" style="stroke-width:0.22px">gh</text>
<line x1="362.5" y1="310.4" x2="362.5" y2="333.5" stroke="#8a8a8a" stroke-width="0.8"/>
<line x1="360.70" y1="310.4" x2="364.30" y2="310.4" stroke="#777" stroke-width="1"/>
<line x1="360.70" y1="333.5" x2="364.30" y2="333.5" stroke="#777" stroke-width="1"/>
<rect x="357.30" y="320.1" width="10.4" height="11.30" fill="#C77CFF" stroke="#1a1a1a" stroke-width="0.5" stroke-opacity="0.8"/>
<line x1="357.30" y1="329.4" x2="367.70" y2="329.4" stroke="#000" stroke-width="1" stroke-opacity="0.62"/>
<text x="362.8" y="308.40" font-size="8" text-anchor="middle" style="stroke-width:0.22px">defg</text>
<line x1="380.6" y1="281.1" x2="380.6" y2="299.5" stroke="#8a8a8a" stroke-width="0.8"/>
<line x1="378.80" y1="281.1" x2="382.40" y2="281.1" stroke="#777" stroke-width="1"/>
<line x1="378.80" y1="299.5" x2="382.40" y2="299.5" stroke="#777" stroke-width="1"/>
<rect x="375.40" y="290.2" width="10.4" height="9.20" fill="#EA6D0B" stroke="#1a1a1a" stroke-width="0.5" stroke-opacity="0.8"/>
<line x1="375.40" y1="298.9" x2="385.80" y2="298.9" stroke="#000" stroke-width="1" stroke-opacity="0.62"/>
<text x="380" y="280.40" font-size="8" text-anchor="middle" style="stroke-width:0.22px">bc</text>
<line x1="393.5" y1="340.3" x2="393.5" y2="373.9" stroke="#8a8a8a" stroke-width="0.8"/>
<line x1="391.70" y1="340.3" x2="395.30" y2="340.3" stroke="#777" stroke-width="1"/>
<line x1="391.70" y1="373.9" x2="395.30" y2="373.9" stroke="#777" stroke-width="1"/>
<rect x="388.30" y="347.3" width="10.4" height="16.30" fill="#07B1F3" stroke="#1a1a1a" stroke-width="0.5" stroke-opacity="0.8"/>
<line x1="388.30" y1="353.8" x2="398.70" y2="353.8" stroke="#000" stroke-width="1" stroke-opacity="0.62"/>
<text x="393.25" y="338.50" font-size="8" text-anchor="middle" style="stroke-width:0.22px">hi</text>
<line x1="406" y1="293" x2="406" y2="299.2" stroke="#8a8a8a" stroke-width="0.8"/>
<line x1="404.20" y1="293" x2="407.80" y2="293" stroke="#777" stroke-width="1"/>
<line x1="404.20" y1="299.2" x2="407.80" y2="299.2" stroke="#777" stroke-width="1"/>
<rect x="400.80" y="295.7" width="10.4" height="3.30" fill="#01C2C6" stroke="#1a1a1a" stroke-width="0.5" stroke-opacity="0.8"/>
<line x1="400.80" y1="298.5" x2="411.20" y2="298.5" stroke="#000" stroke-width="1" stroke-opacity="0.62"/>
<text x="406" y="293.00" font-size="8" text-anchor="middle" style="stroke-width:0.22px">bc</text>
<line x1="418.5" y1="328.6" x2="418.5" y2="358.6" stroke="#8a8a8a" stroke-width="0.8"/>
<line x1="416.70" y1="328.6" x2="420.30" y2="328.6" stroke="#777" stroke-width="1"/>
<line x1="416.70" y1="358.6" x2="420.30" y2="358.6" stroke="#777" stroke-width="1"/>
<rect x="413.30" y="336.1" width="10.4" height="14.50" fill="#C77CFF" stroke="#1a1a1a" stroke-width="0.5" stroke-opacity="0.8"/>
<line x1="413.30" y1="343.1" x2="423.70" y2="343.1" stroke="#000" stroke-width="1" stroke-opacity="0.62"/>
<text x="420" y="324.80" font-size="8" text-anchor="middle" style="stroke-width:0.22px">fgh</text>
<line x1="436.7" y1="236.8" x2="436.7" y2="259.6" stroke="#8a8a8a" stroke-width="0.8"/>
<line x1="434.90" y1="236.8" x2="438.50" y2="236.8" stroke="#777" stroke-width="1"/>
<line x1="434.90" y1="259.6" x2="438.50" y2="259.6" stroke="#777" stroke-width="1"/>
<rect x="431.50" y="244.1" width="10.4" height="11.70" fill="#EA6D0B" stroke="#1a1a1a" stroke-width="0.5" stroke-opacity="0.8"/>
<line x1="431.50" y1="252.1" x2="441.90" y2="252.1" stroke="#000" stroke-width="1" stroke-opacity="0.62"/>
<text x="437.2" y="235.90" font-size="8" text-anchor="middle" style="stroke-width:0.22px">a</text>
<line x1="449.5" y1="268.3" x2="449.5" y2="292.3" stroke="#8a8a8a" stroke-width="0.8"/>
<line x1="447.70" y1="268.3" x2="451.30" y2="268.3" stroke="#777" stroke-width="1"/>
<line x1="447.70" y1="292.3" x2="451.30" y2="292.3" stroke="#777" stroke-width="1"/>
<rect x="444.30" y="278.1" width="10.4" height="11.60" fill="#07B1F3" stroke="#1a1a1a" stroke-width="0.5" stroke-opacity="0.8"/>
<line x1="444.30" y1="287.5" x2="454.70" y2="287.5" stroke="#000" stroke-width="1" stroke-opacity="0.62"/>
<text x="449.65" y="267.60" font-size="8" text-anchor="middle" style="stroke-width:0.22px">b</text>
<line x1="462" y1="254.2" x2="462" y2="321.4" stroke="#8a8a8a" stroke-width="0.8"/>
<line x1="460.20" y1="254.2" x2="463.80" y2="254.2" stroke="#777" stroke-width="1"/>
<line x1="460.20" y1="321.4" x2="463.80" y2="321.4" stroke="#777" stroke-width="1"/>
<rect x="456.80" y="279.1" width="10.4" height="33.20" fill="#01C2C6" stroke="#1a1a1a" stroke-width="0.5" stroke-opacity="0.8"/>
<line x1="456.80" y1="303.4" x2="467.20" y2="303.4" stroke="#000" stroke-width="1" stroke-opacity="0.62"/>
<text x="462.45" y="253.50" font-size="8" text-anchor="middle" style="stroke-width:0.22px">bc</text>
<line x1="474.7" y1="292.5" x2="474.7" y2="315.4" stroke="#8a8a8a" stroke-width="0.8"/>
<line x1="472.90" y1="292.5" x2="476.50" y2="292.5" stroke="#777" stroke-width="1"/>
<line x1="472.90" y1="315.4" x2="476.50" y2="315.4" stroke="#777" stroke-width="1"/>
<rect x="469.50" y="297.5" width="10.4" height="10.80" fill="#C77CFF" stroke="#1a1a1a" stroke-width="0.5" stroke-opacity="0.8"/>
<line x1="469.50" y1="302.4" x2="479.90" y2="302.4" stroke="#000" stroke-width="1" stroke-opacity="0.62"/>
<text x="474.75" y="292.10" font-size="8" text-anchor="middle" style="stroke-width:0.22px">bcd</text>
<line x1="493.1" y1="290.6" x2="493.1" y2="297.1" stroke="#8a8a8a" stroke-width="0.8"/>
<line x1="491.30" y1="290.6" x2="494.90" y2="290.6" stroke="#777" stroke-width="1"/>
<line x1="491.30" y1="297.1" x2="494.90" y2="297.1" stroke="#777" stroke-width="1"/>
<rect x="487.90" y="293.6" width="10.4" height="3.10" fill="#EA6D0B" stroke="#1a1a1a" stroke-width="0.5" stroke-opacity="0.8"/>
<line x1="487.90" y1="296.3" x2="498.30" y2="296.3" stroke="#000" stroke-width="1" stroke-opacity="0.62"/>
<text x="493.05" y="290.40" font-size="8" text-anchor="middle" style="stroke-width:0.22px">bc</text>
<line x1="505.6" y1="355.8" x2="505.6" y2="363.2" stroke="#8a8a8a" stroke-width="0.8"/>
<line x1="503.80" y1="355.8" x2="507.40" y2="355.8" stroke="#777" stroke-width="1"/>
<line x1="503.80" y1="363.2" x2="507.40" y2="363.2" stroke="#777" stroke-width="1"/>
<rect x="500.40" y="356.5" width="10.4" height="3.90" fill="#07B1F3" stroke="#1a1a1a" stroke-width="0.5" stroke-opacity="0.8"/>
<line x1="500.40" y1="357.3" x2="510.80" y2="357.3" stroke="#000" stroke-width="1" stroke-opacity="0.62"/>
<text x="504.75" y="354.00" font-size="8" text-anchor="middle" style="stroke-width:0.22px">hi</text>
<line x1="518.4" y1="285.1" x2="518.4" y2="338.7" stroke="#8a8a8a" stroke-width="0.8"/>
<line x1="516.60" y1="285.1" x2="520.20" y2="285.1" stroke="#777" stroke-width="1"/>
<line x1="516.60" y1="338.7" x2="520.20" y2="338.7" stroke="#777" stroke-width="1"/>
<rect x="513.20" y="308.7" width="10.4" height="26.70" fill="#01C2C6" stroke="#1a1a1a" stroke-width="0.5" stroke-opacity="0.8"/>
<line x1="513.20" y1="332.6" x2="523.60" y2="332.6" stroke="#000" stroke-width="1" stroke-opacity="0.62"/>
<text x="517.35" y="284.30" font-size="8" text-anchor="middle" style="stroke-width:0.22px">cdef</text>
<line x1="530.5" y1="368.5" x2="530.5" y2="390" stroke="#8a8a8a" stroke-width="0.8"/>
<line x1="528.70" y1="368.5" x2="532.30" y2="368.5" stroke="#777" stroke-width="1"/>
<line x1="528.70" y1="390" x2="532.30" y2="390" stroke="#777" stroke-width="1"/>
<rect x="525.30" y="372.4" width="10.4" height="10.80" fill="#C77CFF" stroke="#1a1a1a" stroke-width="0.5" stroke-opacity="0.8"/>
<line x1="525.30" y1="376.3" x2="535.70" y2="376.3" stroke="#000" stroke-width="1" stroke-opacity="0.62"/>
<text x="530.1" y="366.00" font-size="8" text-anchor="middle" style="stroke-width:0.22px">i</text>
<path d="M309.75 228.0V397.9M545.4 228.0V397.9" stroke="#b0b0b0" stroke-width="1.3" fill="none"/>
<path d="M309.1 228.5H546.05M309.1 397.4H546.05" stroke="#9e9e9e" stroke-width="1.05" fill="none"/>
<line x1="307.75" y1="376.5" x2="309.75" y2="376.5" stroke="#888" stroke-width="0.8"/>
<text x="307.6" y="380.10" font-size="11" text-anchor="end">1.0</text>
<line x1="307.75" y1="336.5" x2="309.75" y2="336.5" stroke="#888" stroke-width="0.8"/>
<text x="307.6" y="340.10" font-size="11" text-anchor="end">1.5</text>
<line x1="307.75" y1="296.5" x2="309.75" y2="296.5" stroke="#888" stroke-width="0.8"/>
<text x="307.6" y="300.10" font-size="11" text-anchor="end">2.0</text>
<line x1="307.75" y1="256.6" x2="309.75" y2="256.6" stroke="#888" stroke-width="0.8"/>
<text x="307.6" y="260.10" font-size="11" text-anchor="end">2.5</text>
<line x1="343.3" y1="397.4" x2="343.3" y2="399.4" stroke="#888" stroke-width="0.8"/>
<text x="343.3" y="409.00" font-size="11" text-anchor="middle">N<tspan font-size="8.4">0</tspan></text>
<line x1="399.4" y1="397.4" x2="399.4" y2="399.4" stroke="#888" stroke-width="0.8"/>
<text x="399.4" y="409.00" font-size="11" text-anchor="middle">N<tspan font-size="8.4">1</tspan></text>
<line x1="455.8" y1="397.4" x2="455.8" y2="399.4" stroke="#888" stroke-width="0.8"/>
<text x="455.8" y="409.00" font-size="11" text-anchor="middle">N<tspan font-size="8.4">2</tspan></text>
<line x1="512.1" y1="397.4" x2="512.1" y2="399.4" stroke="#888" stroke-width="0.8"/>
<text x="512.1" y="409.00" font-size="11" text-anchor="middle">N<tspan font-size="8.4">3</tspan></text>
<text x="313.0" y="237.9" font-size="10">(d)</text>
<text transform="translate(13.4,129.6) rotate(-90)" x="0" y="0" font-size="12.5" text-anchor="middle">Specific root length(cm·g<tspan font-size="9" dy="-4.4">−1</tspan><tspan dy="4.4">)</tspan></text>
<text transform="translate(290.2,123.1) rotate(-90)" x="0" y="0" font-size="12.5" text-anchor="middle">Root average diameter(mm)</text>
<text transform="translate(18.2,313.0) rotate(-90)" x="0" y="0" font-size="11.5" text-anchor="middle">Root tissue density(g·cm<tspan font-size="8.8" dy="-4.2">−3</tspan><tspan dy="4.2">)</tspan></text>
<text transform="translate(290.0,315.8) rotate(-90)" x="0" y="0" font-size="13.5" text-anchor="middle">Root biomass(g)</text>
<text x="154" y="422" font-size="11.3" text-anchor="middle">Treatment</text>
<text x="424.3" y="422" font-size="11.3" text-anchor="middle">Treatment</text>
<line x1="186.00" y1="4.9" x2="186.00" y2="22.4" stroke="#222" stroke-width="1.1"/>
<rect x="176.2" y="7.9" width="19.6" height="11.50" fill="#EA6D0B" stroke="#2a2a2a" stroke-width="0.75"/>
<line x1="176.2" y1="13.85" x2="195.79999999999998" y2="13.85" stroke="#2a2a2a" stroke-width="1.1"/>
<text x="206.2" y="16.6" font-size="12.4">P<tspan font-size="8.6">0</tspan></text>
<line x1="244.60" y1="4.9" x2="244.60" y2="22.4" stroke="#222" stroke-width="1.1"/>
<rect x="234.8" y="7.9" width="19.6" height="11.50" fill="#07B1F3" stroke="#2a2a2a" stroke-width="0.75"/>
<line x1="234.8" y1="13.85" x2="254.4" y2="13.85" stroke="#2a2a2a" stroke-width="1.1"/>
<text x="264.2" y="16.6" font-size="12.4">P<tspan font-size="8.6">1</tspan></text>
<line x1="304.00" y1="4.5" x2="304.00" y2="22.1" stroke="#222" stroke-width="1.1"/>
<rect x="294.2" y="7.5" width="19.6" height="11.60" fill="#01C2C6" stroke="#2a2a2a" stroke-width="0.75"/>
<line x1="294.2" y1="13.50" x2="313.8" y2="13.50" stroke="#2a2a2a" stroke-width="1.1"/>
<text x="323.5" y="16.6" font-size="12.4">P<tspan font-size="8.6">2</tspan></text>
<line x1="362.60" y1="4.5" x2="362.60" y2="22.1" stroke="#222" stroke-width="1.1"/>
<rect x="352.8" y="7.5" width="19.6" height="11.60" fill="#C77CFF" stroke="#2a2a2a" stroke-width="0.75"/>
<line x1="352.8" y1="13.50" x2="372.40000000000003" y2="13.50" stroke="#2a2a2a" stroke-width="1.1"/>
<text x="379.4" y="16.6" font-size="12.4">P<tspan font-size="8.6">3</tspan></text>
</g>
</svg>
</body></html>
